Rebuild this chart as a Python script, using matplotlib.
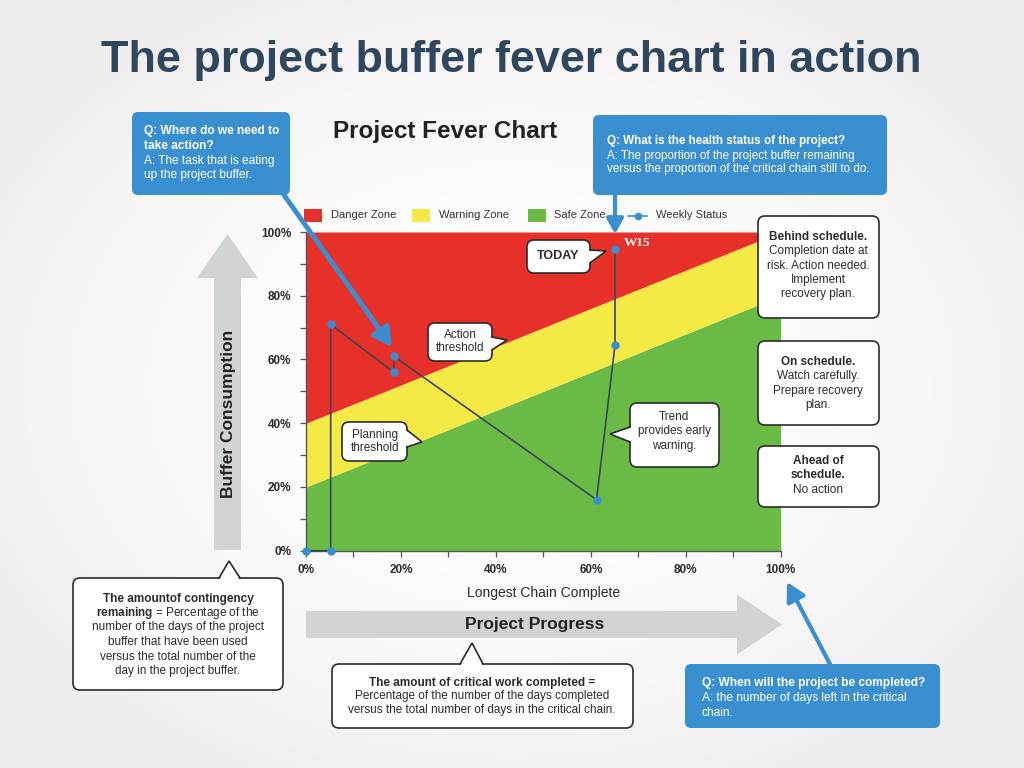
import numpy as np
import matplotlib
matplotlib.use('Agg')
import matplotlib.pyplot as plt
from matplotlib.patches import FancyBboxPatch, FancyArrow, Polygon, Rectangle

plt.rcParams['font.family'] = ['Liberation Sans', 'DejaVu Sans']
plt.rcParams['mathtext.fontset'] = 'custom'
plt.rcParams['mathtext.rm'] = 'Liberation Sans'
plt.rcParams['mathtext.bf'] = 'Liberation Sans:bold'

# weekly status: % of longest chain complete vs % of buffer consumed
chain_complete = [0, 5.2, 5.2, 18.5, 18.5, 61.2, 65.1, 65.1]
buffer_used = [0, 0, 71, 56, 61, 16, 64.5, 94.6]

# zone boundaries
zone_x = [0, 100]
planning_threshold = [20, 80]
action_threshold = [40, 100]

tick_values = [0, 20, 40, 60, 80, 100]
minor_values = [10, 30, 50, 70, 90]
tick_labels = ['0%', '20%', '40%', '60%', '80%', '100%']

RED = '#e8302a'
YELLOW = '#f4e945'
GREEN = '#69bb46'
BLUE = '#3a8fd0'
DARK = '#2b2b2b'
ARROW_GRAY = '#d2d3d4'

fig = plt.figure(figsize=(10.24, 7.68), dpi=100)

# background with a faint vignette
bg = fig.add_axes([0, 0, 1, 1], zorder=0)
yy, xx = np.mgrid[0:768, 0:1024]
r = np.clip(((xx - 512) / 580.0) ** 2 + ((yy - 384) / 440.0) ** 2, 0, 1)
c0 = np.array([1.0, 0.995, 0.997])
c1 = np.array([0.94, 0.93, 0.935])
img = c0[None, None, :] * (1 - r[..., None]) + c1[None, None, :] * r[..., None]
bg.imshow(img, extent=[0, 1024, 768, 0], aspect='auto')
bg.axis('off')

# the fever chart itself
ax = fig.add_axes([306 / 1024, 1 - 550.7 / 768, 474.7 / 1024, 318.7 / 768], zorder=2)
ax.fill_between(zone_x, 0, planning_threshold, color=GREEN, lw=0)
ax.fill_between(zone_x, planning_threshold, action_threshold, color=YELLOW, lw=0)
ax.fill_between(zone_x, action_threshold, 100, color=RED, lw=0)
ax.plot(chain_complete, buffer_used, color='#3d4650', lw=1.2, marker='o', ms=5,
        mfc=BLUE, mec=BLUE, clip_on=False, zorder=3)
ax.set_xlim(0, 100)
ax.set_ylim(0, 100)
ax.set_xticks(tick_values)
ax.set_xticklabels(tick_labels, fontweight='bold', fontsize=8.5, color=DARK)
ax.set_yticks(tick_values)
ax.set_yticklabels(tick_labels, fontweight='bold', fontsize=8.5, color=DARK)
ax.set_xticks(minor_values, minor=True)
ax.set_yticks(minor_values, minor=True)
ax.tick_params(which='both', direction='out', length=4.5, width=0.9, color='#555555')
ax.tick_params(axis='x', pad=5)
ax.tick_params(axis='y', pad=6)
for side in ['top', 'right']:
    ax.spines[side].set_visible(False)
for side in ['left', 'bottom']:
    ax.spines[side].set_color('#555555')
    ax.spines[side].set_linewidth(1.0)
ax.set_xlabel('Longest Chain Complete', fontsize=10, color=DARK, labelpad=7)

# overlay in pixel units for all the callouts
ov = fig.add_axes([0, 0, 1, 1], zorder=3)
ov.set_xlim(0, 1024)
ov.set_ylim(768, 0)
ov.axis('off')


def box(x0, y0, x1, y1, fc='white', ec=DARK, lw=1.2, rad=7):
    ov.add_patch(FancyBboxPatch((x0, y0), x1 - x0, y1 - y0,
                                boxstyle=f'round,pad=0,rounding_size={rad}',
                                fc=fc, ec=ec, lw=lw, zorder=2))


def pointer(b1, b2, tip, fc='white', ec=DARK, lw=1.2):
    b1 = np.array(b1, float)
    b2 = np.array(b2, float)
    tip = np.array(tip, float)
    mid = (b1 + b2) / 2
    d = (tip - mid) / np.linalg.norm(tip - mid)
    ov.add_patch(Polygon([b1 - 2.5 * d, tip, b2 - 2.5 * d], closed=True, fc=fc, ec='none', zorder=3))
    ov.plot([b1[0], tip[0], b2[0]], [b1[1], tip[1], b2[1]], color=ec, lw=lw, zorder=4,
            solid_joinstyle='miter')


def lines(x, ys, texts, weights, size=8.5, color=DARK, ha='center'):
    for y, t, w in zip(ys, texts, weights):
        ov.text(x, y, t, ha=ha, va='center', fontsize=size, fontweight=w, color=color, zorder=5)


# titles
ov.text(511, 72, 'The project buffer fever chart in action', ha='center', va='baseline',
        fontsize=32.4, fontweight='bold', color='#2e475e')
ov.text(445, 138, 'Project Fever Chart', ha='center', va='baseline',
        fontsize=17.5, fontweight='bold', color='#222222')

# legend
legend_items = [(304, RED, 331, 'Danger Zone'), (412, YELLOW, 439, 'Warning Zone'),
                (528, GREEN, 554, 'Safe Zone')]
for x0, col, tx, label in legend_items:
    ov.add_patch(Rectangle((x0, 209), 18, 13, fc=col, ec='none', zorder=2))
    ov.text(tx, 215.5, label, ha='left', va='center', fontsize=8, color='#333333', zorder=5)
ov.plot([628, 647], [215.5, 215.5], color=BLUE, lw=1.2, zorder=4)
ov.plot([637.5], [215.5], 'o', color=BLUE, ms=4.5, zorder=5)
ov.text(656, 215.5, 'Weekly Status', ha='left', va='center', fontsize=8, color='#333333', zorder=5)

# gray axis arrows
ov.add_patch(FancyArrow(227.5, 550, 0, -316, width=27, head_width=61, head_length=44,
                        length_includes_head=True, fc=ARROW_GRAY, ec='none', zorder=1))
ov.add_patch(FancyArrow(306, 624.5, 476, 0, width=27, head_width=60, head_length=45,
                        length_includes_head=True, fc=ARROW_GRAY, ec='none', zorder=1))
ov.text(228, 414, 'Buffer Consumption', rotation=90, ha='center', va='center',
        fontsize=12.5, fontweight='bold', color='#222222', zorder=5)
ov.text(535, 624, 'Project Progress', ha='center', va='center',
        fontsize=12.5, fontweight='bold', color='#222222', zorder=5)

# blue question boxes
box(132, 112, 290, 195, fc=BLUE, ec='none', rad=6)
lines(144, [131, 146, 161, 175],
      ['Q: Where do we need to', 'take action?', 'A: The task that is eating', 'up the project buffer.'],
      ['bold', 'bold', 'normal', 'normal'], size=8.6, color='white', ha='left')
ov.annotate('', xy=(392, 347), xytext=(279, 188),
            arrowprops=dict(arrowstyle='-|>,head_length=0.55,head_width=0.3', color=BLUE, lw=3.5,
                            mutation_scale=20, shrinkA=0, shrinkB=0), zorder=6)

box(593, 115, 887, 195, fc=BLUE, ec='none', rad=6)
lines(607, [141, 156, 169],
      ['Q: What is the health status of the project?',
       'A: The proportion of the project buffer remaining',
       'versus the proportion of the critical chain still to do.'],
      ['bold', 'normal', 'normal'], size=8.4, color='white', ha='left')
ov.annotate('', xy=(615, 234), xytext=(615, 190),
            arrowprops=dict(arrowstyle='-|>,head_length=0.45,head_width=0.25', color=BLUE, lw=3,
                            mutation_scale=20, shrinkA=0, shrinkB=0), zorder=6)

box(685, 664, 940, 728, fc=BLUE, ec='none', rad=6)
lines(702, [683, 698, 713],
      ['Q: When will the project be completed?', 'A: the number of days left in the critical', 'chain.'],
      ['bold', 'normal', 'normal'], size=8.6, color='white', ha='left')
ov.annotate('', xy=(787, 582), xytext=(832, 668),
            arrowprops=dict(arrowstyle='-|>,head_length=0.55,head_width=0.3', color=BLUE, lw=3,
                            mutation_scale=20, shrinkA=0, shrinkB=0), zorder=6)

# white explanation boxes below the chart
box(73, 578, 283, 690)
pointer((219, 578), (240, 578), (229, 561))
lines(178, [599, 613, 627, 642, 657, 671],
      ['The amountof contingency',
       r'$\bf{remaining}$ = Percentage of the',
       'number of the days of the project',
       'buffer that have been used',
       'versus the total number of the',
       'day in the project buffer.'],
      ['bold', 'normal', 'normal', 'normal', 'normal', 'normal'])

box(332, 664, 633, 728)
pointer((460, 664), (483, 664), (472, 643))
lines(482, [683, 696, 710],
      ['The amount of critical work completed =',
       'Percentage of the number of the days completed',
       'versus the total number of days in the critical chain.'],
      ['bold', 'normal', 'normal'])

# status boxes on the right
box(758, 216, 879, 318)
lines(818, [237, 251, 266, 280, 294],
      ['Behind schedule.', 'Completion date at', 'risk. Action needed.', 'Implement', 'recovery plan.'],
      ['bold', 'normal', 'normal', 'normal', 'normal'])
box(758, 341, 879, 425)
lines(818, [362, 376, 391, 405],
      ['On schedule.', 'Watch carefully.', 'Prepare recovery', 'plan.'],
      ['bold', 'normal', 'normal', 'normal'])
box(758, 446, 879, 507)
lines(818, [461, 475, 490],
      ['Ahead of', 'schedule.', 'No action'],
      ['bold', 'bold', 'normal'])

# callouts inside the chart
box(527, 240, 590, 273)
pointer((590, 250), (590, 263), (606, 251))
lines(558, [256], ['TODAY'], ['bold'], size=9)

box(428, 323, 492, 361)
pointer((492, 337), (492, 350), (507, 340))
lines(460, [335, 348], ['Action', 'threshold'], ['normal', 'normal'])

box(342, 422, 407, 461)
pointer((407, 430), (407, 447), (422, 442))
lines(375, [435, 448], ['Planning', 'threshold'], ['normal', 'normal'])

box(630, 403, 719, 467)
pointer((630, 427), (630, 442), (610, 434))
lines(674, [417, 431, 446], ['Trend', 'provides early', 'warning.'], ['normal', 'normal', 'normal'])

ov.text(624, 243, 'W15', ha='left', va='center', fontsize=9.5, color='white',
        family='Liberation Serif', fontweight='bold', zorder=5)

fig.savefig('out.png', dpi=100)
